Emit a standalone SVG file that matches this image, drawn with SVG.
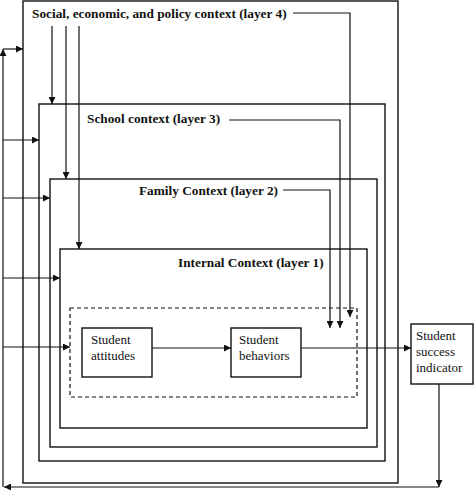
<svg xmlns="http://www.w3.org/2000/svg" width="474" height="490" viewBox="0 0 474 490">
<style>
.box{fill:none;stroke:#111;stroke-width:1.4}
.dash{fill:none;stroke:#111;stroke-width:1.2;stroke-dasharray:4 3}
.c{fill:none;stroke:#111;stroke-width:1.2}
.a{marker-end:url(#ah)}
.lbl{font-family:"Liberation Serif","Times New Roman",serif;font-size:13.3px;font-weight:bold;fill:#111}
.t{font-family:"Liberation Serif","Times New Roman",serif;font-size:13px;fill:#111}
</style>
<defs>
<marker id="ah" viewBox="0 0 10 10" refX="10" refY="5" markerWidth="8" markerHeight="7" markerUnits="userSpaceOnUse" orient="auto">
<path d="M0,0 L10,5 L0,10 z" fill="#111"/>
</marker>
</defs>
<rect width="474" height="490" fill="#fff"/>
<g id="layer4">
<rect class="box" x="23" y="1" width="375" height="482"/>
<text class="lbl" x="32" y="18">Social, economic, and policy context (layer 4)</text>
</g>
<g id="layer3">
<rect class="box" x="39" y="104" width="346" height="357"/>
<text class="lbl" x="87" y="123">School context (layer 3)</text>
</g>
<g id="layer2">
<rect class="box" x="50" y="179" width="327" height="268"/>
<text class="lbl" x="139" y="195">Family Context (layer 2)</text>
</g>
<g id="layer1">
<rect class="box" x="60" y="249" width="307" height="179"/>
<text class="lbl" x="178" y="267">Internal Context (layer 1)</text>
</g>
<g id="student-core">
<rect class="dash" x="70" y="308" width="287" height="89"/>
</g>
<g id="attitudes">
<rect class="box" x="82" y="328" width="70" height="49"/>
<text class="t" x="91" y="344">Student</text>
<text class="t" x="91" y="360">attitudes</text>
</g>
<g id="behaviors">
<rect class="box" x="231" y="328" width="70" height="49"/>
<text class="t" x="239" y="344">Student</text>
<text class="t" x="239" y="360">behaviors</text>
</g>
<g id="success">
<rect class="box" x="411" y="324" width="62" height="60"/>
<text class="t" x="416" y="340">Student</text>
<text class="t" x="416" y="356">success</text>
<text class="t" x="416" y="372">indicator</text>
</g>
<g id="connectors">
<path class="c a" d="M293,13 H350 V317"/>
<path class="c a" d="M229,120 H340 V328"/>
<path class="c a" d="M283,190 H330 V328"/>
<path class="c a" d="M52,26 V104"/>
<path class="c a" d="M66,26 V179"/>
<path class="c a" d="M79,26 V249"/>
<path class="c a" d="M152,348 H231"/>
<path class="c a" d="M301,348 H411"/>
<path class="c a" d="M439,384 V487"/>
<path class="c a" d="M439,487 H4"/>
<path class="c a" d="M3,487 V49"/>
<path class="c a" d="M3,49 H23"/>
<path class="c a" d="M3,140 H39"/>
<path class="c a" d="M3,198 H50"/>
<path class="c a" d="M3,278 H60"/>
<path class="c a" d="M3,347 H70"/>
</g>
</svg>
